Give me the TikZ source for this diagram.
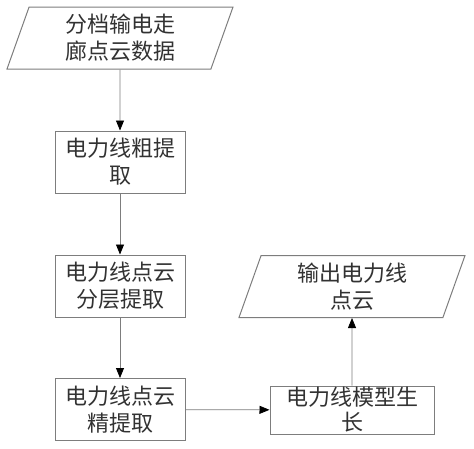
\documentclass[tikz,border=0pt]{standalone}
\usepackage{fontspec}
\newfontfamily\cjk{Noto Sans CJK SC}
\usepackage{xcolor}
\usepackage{tikz}
\usetikzlibrary{arrows.meta}
\usetikzlibrary{shapes.geometric,positioning}
\definecolor{edgegray}{RGB}{125,125,125}
\definecolor{txtgray}{RGB}{50,50,50}
\tikzset{
  stepbox/.style={draw=edgegray, line width=1pt, minimum width=130pt, minimum height=62pt,
    inner sep=0pt, text=txtgray, align=center, font=\cjk\fontsize{22}{27}\selectfont},
  iobox/.style={stepbox, trapezium, trapezium left angle=65, trapezium right angle=115,
    trapezium stretches body, minimum width=226pt, minimum height=62pt},
  steptext/.style={text=txtgray, align=center, inner sep=0pt, font=\cjk\fontsize{22}{25}\selectfont},
  flow/.style={draw=edgegray, line width=0.8pt, -{Triangle[length=10pt,width=8pt,color=black]}}
}
\begin{document}
\begin{tikzpicture}[x=1pt,y=-1pt]
        \useasboundingbox (0,0) rectangle (474,448);
        % Extraction flow
        \node[iobox] (data) at (120,38) {分档输电走\\廊点云数据};
        \node[stepbox] (coarse) at (120,162) {电力线粗提\\取};
        \node[stepbox] (layer) at (120,286) {电力线点云\\分层提取};
        \node[stepbox] (fine) at (120,409.5) {电力线点云\\精提取};
        \node[stepbox, minimum width=164pt, minimum height=48pt] (grow) at (352,410) {};
        \node[steptext] (growtxt) at (grow.center) {电力线模型生\\长};
        \node[iobox] (out) at (352,286.5) {输出电力线\\点云};
        \draw[flow] (data) -- (coarse);
        \draw[flow] (coarse) -- (layer);
        \draw[flow] (layer) -- (fine);
        \draw[flow] (fine) -- (grow);
        \draw[flow] (grow) -- (out);
    \end{tikzpicture}
\end{document}
